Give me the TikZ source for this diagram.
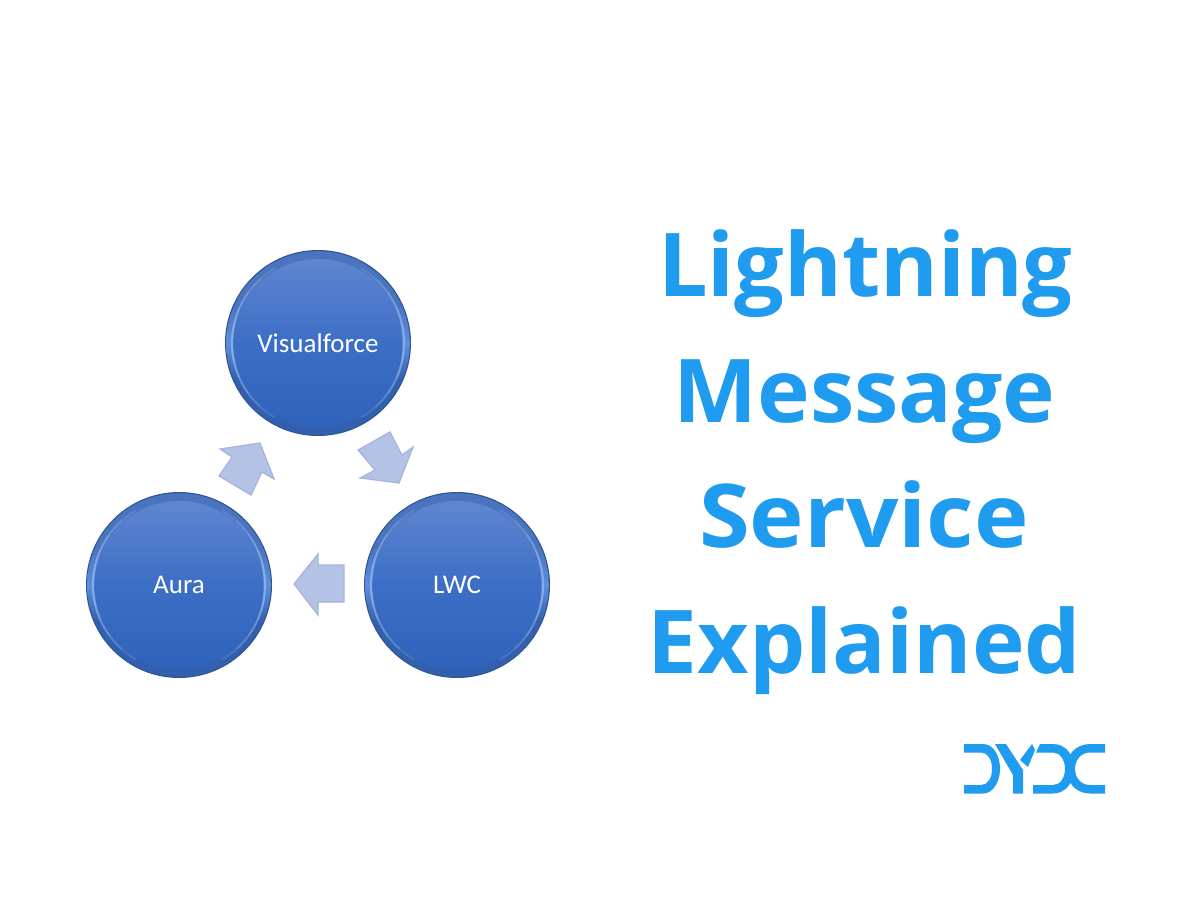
\documentclass[tikz,border=0pt]{standalone}
\usepackage{fontspec}
\setmainfont{Open Sans}
\newfontfamily\carl{Carlito}
\definecolor{ttl}{HTML}{1F9BF0}
\definecolor{arrowfill}{HTML}{B4C2E5}
\definecolor{arrowedge}{HTML}{A5B4DC}
\definecolor{edgec}{HTML}{2F5596}
\definecolor{faceB}{HTML}{2F62BA}
\definecolor{faceM}{HTML}{3C6EC6}
\definecolor{faceT}{HTML}{5F86D0}
\definecolor{rimT}{HTML}{4A74BE}
\definecolor{rimH}{HTML}{5F8EDC}
\definecolor{rimB}{HTML}{3260AE}
\definecolor{glow}{HTML}{9CC0F4}
\pgfdeclareverticalshading{discface}{100bp}{color(0bp)=(faceB);color(25bp)=(faceB);color(50bp)=(faceM);color(75bp)=(faceT);color(100bp)=(faceT)}
\pgfdeclareverticalshading{discrim}{100bp}{color(0bp)=(rimB);color(25bp)=(rimB);color(40bp)=(rimB);color(50bp)=(rimH);color(60bp)=(rimT);color(75bp)=(rimT);color(100bp)=(rimT)}
\tikzset{
  disc/.style={circle,minimum size=186pt,inner sep=0pt,text=white,font=\carl\fontsize{27}{27}\selectfont},
  flow/.style={fill=arrowfill,draw=arrowedge,line width=1.2pt,line join=miter},
  title/.style={text=ttl,font=\fontsize{88}{88}\selectfont\bfseries,anchor=base,transform shape},
  logo/.style={fill=ttl,draw=none},
  crescent/.style={glow,line width=2pt,opacity=.2}
}
\begin{document}
\begin{tikzpicture}[x=1pt,y=-1pt]
\useasboundingbox (0,0) rectangle (1200,900);
\fill[white] (0,0) rectangle (1200,900);
\foreach \cx/\cy in {318/343,179/585,457/585}{
  \fill[edgec] (\cx,\cy) circle (93);
  \shade[shading=discrim] (\cx,\cy) circle (91.8);
  \shade[shading=discface] (\cx,\cy+0.5) circle (84.5);
  \foreach \a in {60,48,36,24,14}{
    \draw[crescent] (\cx,\cy) ++(\a:86) arc[start angle=\a,end angle=-\a,radius=86];
    \draw[crescent] (\cx,\cy) ++(180-\a:86) arc[start angle=180-\a,end angle=180+\a,radius=86];
  }
}
\node[disc] (vf) at (318,343) {Visualforce};
\node[disc] (au) at (179,585) {Aura};
\node[disc] (lw) at (457,585) {LWC};
\draw[flow] (294,584) -- (318,554) -- (318,565) -- (344,565) -- (344,602) -- (318,602) -- (318,615) -- cycle;
\draw[flow] (358,450) -- (390,432) -- (402,455) -- (413,447) -- (399,483) -- (360,478) -- (375,470) -- cycle;
\draw[flow] (220,449) -- (260,443) -- (274,479) -- (262,472) -- (251,495) -- (219,476) -- (232,457) -- cycle;
\node[title] (t1) at (865.5,296) {Lightning};
\node[title,xscale=1.013] (t2) at (864.5,422) {Message};
\node[title,xscale=1.048] (t3) at (864,547) {Service};
\node[title,xscale=1.012] (t4) at (864.5,673) {Explained};
% logo
\fill[logo] (964,744) -- (983,744) .. controls (993,744) and (1000,755) .. (1000,768.75) .. controls (1000,782) and (993,793.5) .. (983,793.5) -- (964,793.5) -- (964,785) -- (981,785) .. controls (988,785) and (992,778) .. (992,768.75) .. controls (992,760) and (988,752.5) .. (981,752.5) -- (964,752.5) -- cycle;
\fill[logo] (995,744) -- (1006,744) -- (1023,770) -- (1023,793.5) -- (1013,793.5) -- (1013,775) -- cycle;
\fill[logo] (1020,760) -- (1032,744) -- (1035,750) -- (1028,767) -- cycle;
\fill[logo] (1040,744) -- (1053,744) .. controls (1066,744) and (1074,755) .. (1074,768.75) .. controls (1074,782) and (1066,793.5) .. (1053,793.5) -- (1033,793.5) -- (1033,785) -- (1053,785) .. controls (1060,785) and (1065,778) .. (1065,768.75) .. controls (1065,760) and (1060,752.5) .. (1053,752.5) -- (1036,752.5) -- cycle;
\fill[logo] (1105,744) -- (1090,744) .. controls (1076,744) and (1066,755) .. (1066,768.75) .. controls (1066,782) and (1076,793.5) .. (1090,793.5) -- (1105,793.5) -- (1105,785) -- (1090,785) .. controls (1081,785) and (1075,778) .. (1075,768.75) .. controls (1075,760) and (1081,752.5) .. (1090,752.5) -- (1105,752.5) -- cycle;
\end{tikzpicture}
\end{document}
